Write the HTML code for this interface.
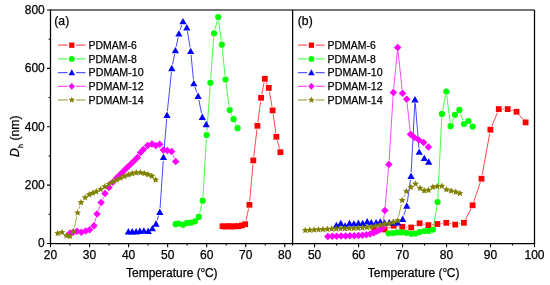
<!DOCTYPE html><html><head><meta charset="utf-8"><style>html,body{margin:0;padding:0;background:#fff;}svg{display:block;}</style></head><body><svg width="550" height="285" viewBox="0 0 550 285"><rect width="550" height="285" fill="#fff"/><defs><clipPath id="ca"><rect x="50.5" y="10" width="242.1" height="233.5"/></clipPath><clipPath id="cb"><rect x="292.6" y="10" width="241.9" height="233.5"/></clipPath></defs><g clip-path="url(#ca)"><path d="M246 220.49L248.6 208.51M249.73 201.01L252.97 164.19M253.75 156.63L256.95 129.57M257.9 122.03L260.6 101.57M261.83 94.07L264.07 82.53M266.33 82.28L267.27 84.42M269.43 91.65L271.97 106.65M273.14 114.16L275.86 133.04M277.36 140.48L279.44 148.52" fill="none" stroke="#ff0000" stroke-width="0.9" stroke-opacity="0.8"/><g fill="#ff0000"><rect x="219.6" y="223.3" width="5.8" height="5.8"/><rect x="222.8" y="223.7" width="5.8" height="5.8"/><rect x="226" y="223.2" width="5.8" height="5.8"/><rect x="229.2" y="223.7" width="5.8" height="5.8"/><rect x="232.4" y="223.3" width="5.8" height="5.8"/><rect x="235.6" y="223.3" width="5.8" height="5.8"/><rect x="239" y="222.5" width="5.8" height="5.8"/><rect x="242.3" y="221.3" width="5.8" height="5.8"/><rect x="246.5" y="201.9" width="5.8" height="5.8"/><rect x="250.4" y="157.5" width="5.8" height="5.8"/><rect x="254.5" y="122.9" width="5.8" height="5.8"/><rect x="258.2" y="94.9" width="5.8" height="5.8"/><rect x="261.9" y="75.9" width="5.8" height="5.8"/><rect x="265.9" y="85" width="5.8" height="5.8"/><rect x="269.7" y="107.5" width="5.8" height="5.8"/><rect x="273.5" y="133.9" width="5.8" height="5.8"/><rect x="277.5" y="149.3" width="5.8" height="5.8"/></g><path d="M199.69 213.21L201.81 204.39M202.93 196.91L206.37 138.79M206.88 131.21L210.12 86.59M210.68 79.01L213.72 37.09M214.95 29.62L217.25 20.68M218.69 20.77L221.31 40.93M222.2 48.48L225.1 75.72M226.02 83.26L229.18 106.24M231.18 113.5L232.12 115.7M235.14 122.67L236.06 124.73" fill="none" stroke="#00ff00" stroke-width="0.9" stroke-opacity="0.8"/><g fill="#00ff00"><circle cx="175.6" cy="224.2" r="3.1"/><circle cx="178.7" cy="223.5" r="3.1"/><circle cx="183" cy="224.8" r="3.1"/><circle cx="187.1" cy="222.9" r="3.1"/><circle cx="191" cy="222.7" r="3.1"/><circle cx="195" cy="221.3" r="3.1"/><circle cx="198.8" cy="216.9" r="3.1"/><circle cx="202.7" cy="200.7" r="3.1"/><circle cx="206.6" cy="135" r="3.1"/><circle cx="210.4" cy="82.8" r="3.1"/><circle cx="214" cy="33.3" r="3.1"/><circle cx="218.2" cy="17" r="3.1"/><circle cx="221.8" cy="44.7" r="3.1"/><circle cx="225.5" cy="79.5" r="3.1"/><circle cx="229.7" cy="110" r="3.1"/><circle cx="233.6" cy="119.2" r="3.1"/><circle cx="237.6" cy="128.2" r="3.1"/></g><path d="M157.16 220.18L158.64 215.62M160.06 208.21L163.24 160.99M163.81 153.41L166.69 118.79M167.39 111.22L171.41 72.08M172.55 64.57L174.65 54.13M176.18 46.68L178.12 37.42M180.1 30.1L181.8 25M187.42 31.25L190.08 47.45M191.06 54.98L193.44 79.62M195.03 87L196.87 92.4M198.84 99.73L201.56 113.37M204.11 120.44L204.39 120.96" fill="none" stroke="#0000ff" stroke-width="0.9" stroke-opacity="0.8"/><g fill="#0000ff"><path d="M128.4 228.08L132 234.48L124.8 234.48Z"/><path d="M132.2 228.08L135.8 234.48L128.6 234.48Z"/><path d="M136.1 228.08L139.7 234.48L132.5 234.48Z"/><path d="M139.9 227.58L143.5 233.98L136.3 233.98Z"/><path d="M143.8 227.18L147.4 233.58L140.2 233.58Z"/><path d="M148.2 227.48L151.8 233.88L144.6 233.88Z"/><path d="M152.4 224.88L156 231.28L148.8 231.28Z"/><path d="M156 220.28L159.6 226.68L152.4 226.68Z"/><path d="M159.8 208.48L163.4 214.88L156.2 214.88Z"/><path d="M163.5 153.68L167.1 160.08L159.9 160.08Z"/><path d="M167 111.48L170.6 117.88L163.4 117.88Z"/><path d="M171.8 64.78L175.4 71.18L168.2 71.18Z"/><path d="M175.4 46.88L179 53.28L171.8 53.28Z"/><path d="M178.9 30.18L182.5 36.58L175.3 36.58Z"/><path d="M183 17.88L186.6 24.28L179.4 24.28Z"/><path d="M186.8 23.98L190.4 30.38L183.2 30.38Z"/><path d="M190.7 47.68L194.3 54.08L187.1 54.08Z"/><path d="M193.8 79.88L197.4 86.28L190.2 86.28Z"/><path d="M198.1 92.48L201.7 98.88L194.5 98.88Z"/><path d="M202.3 113.58L205.9 119.98L198.7 119.98Z"/><path d="M206.2 120.78L209.8 127.18L202.6 127.18Z"/></g><path d="M94.94 222.02L96.06 217.68M98.27 210.42L99.83 205.98M102.64 198.93L103.46 197.07M173.04 155.02L174.26 157.98" fill="none" stroke="#ff00ff" stroke-width="0.9" stroke-opacity="0.8"/><g fill="#ff00ff"><path d="M70.1 229.25L73.85 233L70.1 236.75L66.35 233Z"/><path d="M73.2 228.55L76.95 232.3L73.2 236.05L69.45 232.3Z"/><path d="M77 227.55L80.75 231.3L77 235.05L73.25 231.3Z"/><path d="M81.3 228.55L85.05 232.3L81.3 236.05L77.55 232.3Z"/><path d="M85.7 227.25L89.45 231L85.7 234.75L81.95 231Z"/><path d="M89.6 226.05L93.35 229.8L89.6 233.55L85.85 229.8Z"/><path d="M94 221.95L97.75 225.7L94 229.45L90.25 225.7Z"/><path d="M97 210.25L100.75 214L97 217.75L93.25 214Z"/><path d="M101.1 198.65L104.85 202.4L101.1 206.15L97.35 202.4Z"/><path d="M105 189.85L108.75 193.6L105 197.35L101.25 193.6Z"/><path d="M109 183.75L112.75 187.5L109 191.25L105.25 187.5Z"/><path d="M112.6 178.45L116.35 182.2L112.6 185.95L108.85 182.2Z"/><path d="M116.6 174.25L120.35 178L116.6 181.75L112.85 178Z"/><path d="M120.1 170.75L123.85 174.5L120.1 178.25L116.35 174.5Z"/><path d="M123.6 167.25L127.35 171L123.6 174.75L119.85 171Z"/><path d="M127.1 163.85L130.85 167.6L127.1 171.35L123.35 167.6Z"/><path d="M130.6 160.45L134.35 164.2L130.6 167.95L126.85 164.2Z"/><path d="M134.2 157.05L137.95 160.8L134.2 164.55L130.45 160.8Z"/><path d="M137.4 153.65L141.15 157.4L137.4 161.15L133.65 157.4Z"/><path d="M140.6 148.85L144.35 152.6L140.6 156.35L136.85 152.6Z"/><path d="M143.3 145.65L147.05 149.4L143.3 153.15L139.55 149.4Z"/><path d="M147.7 141.65L151.45 145.4L147.7 149.15L143.95 145.4Z"/><path d="M152 140.25L155.75 144L152 147.75L148.25 144Z"/><path d="M155.7 141.85L159.45 145.6L155.7 149.35L151.95 145.6Z"/><path d="M159.6 140.45L163.35 144.2L159.6 147.95L155.85 144.2Z"/><path d="M163.3 146.25L167.05 150L163.3 153.75L159.55 150Z"/><path d="M167.3 146.75L171.05 150.5L167.3 154.25L163.55 150.5Z"/><path d="M171.6 147.75L175.35 151.5L171.6 155.25L167.85 151.5Z"/><path d="M175.7 157.75L179.45 161.5L175.7 165.25L171.95 161.5Z"/></g><path d="M74.4 227.59L76.8 216.51M78.79 209.19L79.81 206.11" fill="none" stroke="#808000" stroke-width="0.9" stroke-opacity="0.8"/><g fill="#808000"><path d="M57.7 229.7L58.7 231.92L61.12 232.19L59.32 233.83L59.82 236.21L57.7 235L55.58 236.21L56.08 233.83L54.28 232.19L56.7 231.92Z"/><path d="M62 228.7L63 230.92L65.42 231.19L63.62 232.83L64.12 235.21L62 234L59.88 235.21L60.38 232.83L58.58 231.19L61 230.92Z"/><path d="M66.4 232L67.4 234.22L69.82 234.49L68.02 236.13L68.52 238.51L66.4 237.3L64.28 238.51L64.78 236.13L62.98 234.49L65.4 234.22Z"/><path d="M69.9 232.6L70.9 234.82L73.32 235.09L71.52 236.73L72.02 239.11L69.9 237.9L67.78 239.11L68.28 236.73L66.48 235.09L68.9 234.82Z"/><path d="M73.6 227.7L74.6 229.92L77.02 230.19L75.22 231.83L75.72 234.21L73.6 233L71.48 234.21L71.98 231.83L70.18 230.19L72.6 229.92Z"/><path d="M77.6 209.2L78.6 211.42L81.02 211.69L79.22 213.33L79.72 215.71L77.6 214.5L75.48 215.71L75.98 213.33L74.18 211.69L76.6 211.42Z"/><path d="M81 198.9L82 201.12L84.42 201.39L82.62 203.03L83.12 205.41L81 204.2L78.88 205.41L79.38 203.03L77.58 201.39L80 201.12Z"/><path d="M85.2 194L86.2 196.22L88.62 196.49L86.82 198.13L87.32 200.51L85.2 199.3L83.08 200.51L83.58 198.13L81.78 196.49L84.2 196.22Z"/><path d="M89.2 191L90.2 193.22L92.62 193.49L90.82 195.13L91.32 197.51L89.2 196.3L87.08 197.51L87.58 195.13L85.78 193.49L88.2 193.22Z"/><path d="M92.7 189.5L93.7 191.72L96.12 191.99L94.32 193.63L94.82 196.01L92.7 194.8L90.58 196.01L91.08 193.63L89.28 191.99L91.7 191.72Z"/><path d="M96.3 188.1L97.3 190.32L99.72 190.59L97.92 192.23L98.42 194.61L96.3 193.4L94.18 194.61L94.68 192.23L92.88 190.59L95.3 190.32Z"/><path d="M100.7 185.8L101.7 188.02L104.12 188.29L102.32 189.93L102.82 192.31L100.7 191.1L98.58 192.31L99.08 189.93L97.28 188.29L99.7 188.02Z"/><path d="M104.8 183.1L105.8 185.32L108.22 185.59L106.42 187.23L106.92 189.61L104.8 188.4L102.68 189.61L103.18 187.23L101.38 185.59L103.8 185.32Z"/><path d="M109 180.5L110 182.72L112.42 182.99L110.62 184.63L111.12 187.01L109 185.8L106.88 187.01L107.38 184.63L105.58 182.99L108 182.72Z"/><path d="M113 178.3L114 180.52L116.42 180.79L114.62 182.43L115.12 184.81L113 183.6L110.88 184.81L111.38 182.43L109.58 180.79L112 180.52Z"/><path d="M116.9 176.3L117.9 178.52L120.32 178.79L118.52 180.43L119.02 182.81L116.9 181.6L114.78 182.81L115.28 180.43L113.48 178.79L115.9 178.52Z"/><path d="M120.6 174.5L121.6 176.72L124.02 176.99L122.22 178.63L122.72 181.01L120.6 179.8L118.48 181.01L118.98 178.63L117.18 176.99L119.6 176.72Z"/><path d="M124.5 172.7L125.5 174.92L127.92 175.19L126.12 176.83L126.62 179.21L124.5 178L122.38 179.21L122.88 176.83L121.08 175.19L123.5 174.92Z"/><path d="M128.3 171.3L129.3 173.52L131.72 173.79L129.92 175.43L130.42 177.81L128.3 176.6L126.18 177.81L126.68 175.43L124.88 173.79L127.3 173.52Z"/><path d="M132.1 169.9L133.1 172.12L135.52 172.39L133.72 174.03L134.22 176.41L132.1 175.2L129.98 176.41L130.48 174.03L128.68 172.39L131.1 172.12Z"/><path d="M136.2 169.1L137.2 171.32L139.62 171.59L137.82 173.23L138.32 175.61L136.2 174.4L134.08 175.61L134.58 173.23L132.78 171.59L135.2 171.32Z"/><path d="M140.4 169L141.4 171.22L143.82 171.49L142.02 173.13L142.52 175.51L140.4 174.3L138.28 175.51L138.78 173.13L136.98 171.49L139.4 171.22Z"/><path d="M144.2 169.8L145.2 172.02L147.62 172.29L145.82 173.93L146.32 176.31L144.2 175.1L142.08 176.31L142.58 173.93L140.78 172.29L143.2 172.02Z"/><path d="M148 170.9L149 173.12L151.42 173.39L149.62 175.03L150.12 177.41L148 176.2L145.88 177.41L146.38 175.03L144.58 173.39L147 173.12Z"/><path d="M151.9 172.4L152.9 174.62L155.32 174.89L153.52 176.53L154.02 178.91L151.9 177.7L149.78 178.91L150.28 176.53L148.48 174.89L150.9 174.62Z"/><path d="M155.6 176.2L156.6 178.42L159.02 178.69L157.22 180.33L157.72 182.71L155.6 181.5L153.48 182.71L153.98 180.33L152.18 178.69L154.6 178.42Z"/></g></g><path d="M50.5 243.5V247.2M89.55 243.5V247.2M128.6 243.5V247.2M167.65 243.5V247.2M206.69 243.5V247.2M245.74 243.5V247.2M284.79 243.5V247.2M70.02 243.5V245.6M109.07 243.5V245.6M148.12 243.5V245.6M187.17 243.5V245.6M226.22 243.5V245.6M265.27 243.5V245.6" stroke="#000" stroke-width="1.1" fill="none"/><text x="50.5" y="258.7" text-anchor="middle" font-size="12" font-family="Liberation Sans, Arial, sans-serif" stroke="#000" stroke-width="0.25">20</text><text x="89.55" y="258.7" text-anchor="middle" font-size="12" font-family="Liberation Sans, Arial, sans-serif" stroke="#000" stroke-width="0.25">30</text><text x="128.6" y="258.7" text-anchor="middle" font-size="12" font-family="Liberation Sans, Arial, sans-serif" stroke="#000" stroke-width="0.25">40</text><text x="167.65" y="258.7" text-anchor="middle" font-size="12" font-family="Liberation Sans, Arial, sans-serif" stroke="#000" stroke-width="0.25">50</text><text x="206.69" y="258.7" text-anchor="middle" font-size="12" font-family="Liberation Sans, Arial, sans-serif" stroke="#000" stroke-width="0.25">60</text><text x="245.74" y="258.7" text-anchor="middle" font-size="12" font-family="Liberation Sans, Arial, sans-serif" stroke="#000" stroke-width="0.25">70</text><text x="284.79" y="258.7" text-anchor="middle" font-size="12" font-family="Liberation Sans, Arial, sans-serif" stroke="#000" stroke-width="0.25">80</text><text x="171.8" y="276.6" text-anchor="middle" font-size="12" font-family="Liberation Sans, Arial, sans-serif" stroke="#000" stroke-width="0.25">Temperature (<tspan font-size="6.8" dy="-5" dx="0.3">o</tspan><tspan dy="5" dx="0.2">C)</tspan></text><text x="54.3" y="24.9" font-size="12.2" font-family="Liberation Sans, Arial, sans-serif" stroke="#000" stroke-width="0.25">(a)</text><path d="M58 45.2H67.6M76 45.2H85.5" stroke="#ff5a6a" stroke-width="1.3"/><g fill="#ff0000"><rect x="69.15" y="42.55" width="5.3" height="5.3"/></g><text x="88.6" y="49.3" font-size="11.4" textLength="48.2" lengthAdjust="spacingAndGlyphs" font-family="Liberation Sans, Arial, sans-serif" stroke="#000" stroke-width="0.25">PDMAM-6</text><path d="M58 58.9H67.6M76 58.9H85.5" stroke="#5aff5a" stroke-width="1.3"/><g fill="#00ff00"><circle cx="71.8" cy="58.9" r="2.95"/></g><text x="88.6" y="62.88" font-size="11.4" textLength="48.2" lengthAdjust="spacingAndGlyphs" font-family="Liberation Sans, Arial, sans-serif" stroke="#000" stroke-width="0.25">PDMAM-8</text><path d="M58 72.6H67.6M76 72.6H85.5" stroke="#5a5aff" stroke-width="1.3"/><g fill="#0000ff"><path d="M71.8 69.35L75.1 75.25L68.5 75.25Z"/></g><text x="88.6" y="76.46" font-size="11.4" textLength="55.0" lengthAdjust="spacingAndGlyphs" font-family="Liberation Sans, Arial, sans-serif" stroke="#000" stroke-width="0.25">PDMAM-10</text><path d="M58 86.3H67.6M76 86.3H85.5" stroke="#ff5aff" stroke-width="1.3"/><g fill="#ff00ff"><path d="M71.8 82.9L75.1 86.3L71.8 89.7L68.5 86.3Z"/></g><text x="88.6" y="90.04" font-size="11.4" textLength="55.0" lengthAdjust="spacingAndGlyphs" font-family="Liberation Sans, Arial, sans-serif" stroke="#000" stroke-width="0.25">PDMAM-12</text><path d="M58 100H67.6M76 100H85.5" stroke="#b8b870" stroke-width="1.3"/><g fill="#808000"><path d="M71.8 96.6L72.74 98.71L75.03 98.95L73.32 100.49L73.8 102.75L71.8 101.6L69.8 102.75L70.28 100.49L68.57 98.95L70.86 98.71Z"/></g><text x="88.6" y="103.62" font-size="11.4" textLength="55.0" lengthAdjust="spacingAndGlyphs" font-family="Liberation Sans, Arial, sans-serif" stroke="#000" stroke-width="0.25">PDMAM-14</text><g clip-path="url(#cb)"><path d="M378.09 228.99L380.81 229.21M388.11 228.06L390.09 227.24M397.38 226.23L398.52 226.37M406.09 227.1L407.41 227.2M414.6 225.8L416.2 225M423.32 224.06L424.68 224.34M432.17 224.64L433.63 224.46M441.17 223.49L442.53 223.31M450.02 223.55L451.48 223.85M458.92 223.83L460.18 223.57M465.59 219.4L470.91 208.7M473.81 201.7L480.29 182.3M482.18 174.96L489.72 133.44M491.83 126.18L497.37 112.62M502.6 109.1L503.9 109.1M511.33 110.21L512.87 110.69M518.98 114.68L523.12 119.52" fill="none" stroke="#ff0000" stroke-width="0.9" stroke-opacity="0.8"/><g fill="#ff0000"><rect x="371.4" y="225.8" width="5.8" height="5.8"/><rect x="381.7" y="226.6" width="5.8" height="5.8"/><rect x="390.7" y="222.9" width="5.8" height="5.8"/><rect x="399.4" y="223.9" width="5.8" height="5.8"/><rect x="408.3" y="224.6" width="5.8" height="5.8"/><rect x="416.7" y="220.4" width="5.8" height="5.8"/><rect x="425.5" y="222.2" width="5.8" height="5.8"/><rect x="434.5" y="221.1" width="5.8" height="5.8"/><rect x="443.4" y="219.9" width="5.8" height="5.8"/><rect x="452.3" y="221.7" width="5.8" height="5.8"/><rect x="461" y="219.9" width="5.8" height="5.8"/><rect x="469.7" y="202.4" width="5.8" height="5.8"/><rect x="478.6" y="175.8" width="5.8" height="5.8"/><rect x="487.5" y="126.8" width="5.8" height="5.8"/><rect x="495.9" y="106.2" width="5.8" height="5.8"/><rect x="504.8" y="106.2" width="5.8" height="5.8"/><rect x="513.6" y="108.9" width="5.8" height="5.8"/><rect x="522.7" y="119.5" width="5.8" height="5.8"/></g><path d="M433.54 225.85L436.96 205.75M437.79 198.2L441.71 117.7M442.63 110.17L445.57 95.23M446.77 95.27L450.13 122.43M451.97 122.65L453.63 118.35M460.58 113.51L462.82 120.39" fill="none" stroke="#00ff00" stroke-width="0.9" stroke-opacity="0.8"/><g fill="#00ff00"><circle cx="388.6" cy="233.3" r="3.1"/><circle cx="392.9" cy="233" r="3.1"/><circle cx="397.1" cy="232.4" r="3.1"/><circle cx="401.3" cy="232.4" r="3.1"/><circle cx="406.2" cy="232.8" r="3.1"/><circle cx="411.2" cy="233.8" r="3.1"/><circle cx="415.4" cy="233.5" r="3.1"/><circle cx="419.6" cy="232.1" r="3.1"/><circle cx="424.5" cy="231" r="3.1"/><circle cx="428.7" cy="231" r="3.1"/><circle cx="432.9" cy="229.6" r="3.1"/><circle cx="437.6" cy="202" r="3.1"/><circle cx="441.9" cy="113.9" r="3.1"/><circle cx="446.3" cy="91.5" r="3.1"/><circle cx="450.6" cy="126.2" r="3.1"/><circle cx="455" cy="114.8" r="3.1"/><circle cx="459.4" cy="109.9" r="3.1"/><circle cx="464" cy="124" r="3.1"/><circle cx="468.4" cy="121" r="3.1"/><circle cx="472.7" cy="126.6" r="3.1"/></g><path d="M403.83 215.37L405.67 209.43M407.33 202.04L410.47 179.76M411.2 172.21L414.8 103.29M415.3 103.29L418.9 148.11M421.59 154.85L421.91 155.25" fill="none" stroke="#0000ff" stroke-width="0.9" stroke-opacity="0.8"/><g fill="#0000ff"><path d="M336.4 221.68L340 228.08L332.8 228.08Z"/><path d="M340.8 219.78L344.4 226.18L337.2 226.18Z"/><path d="M345.1 222.18L348.7 228.58L341.5 228.58Z"/><path d="M349.5 219.78L353.1 226.18L345.9 226.18Z"/><path d="M353.9 220.18L357.5 226.58L350.3 226.58Z"/><path d="M358.4 219.48L362 225.88L354.8 225.88Z"/><path d="M362.7 219.78L366.3 226.18L359.1 226.18Z"/><path d="M367.2 217.98L370.8 224.38L363.6 224.38Z"/><path d="M371.3 218.98L374.9 225.38L367.7 225.38Z"/><path d="M376.1 218.98L379.7 225.38L372.5 225.38Z"/><path d="M380.3 218.18L383.9 224.58L376.7 224.58Z"/><path d="M384.5 219.28L388.1 225.68L380.9 225.68Z"/><path d="M389.2 218.98L392.8 225.38L385.6 225.38Z"/><path d="M393.4 218.98L397 225.38L389.8 225.38Z"/><path d="M397.6 218.98L401.2 225.38L394 225.38Z"/><path d="M402.7 215.48L406.3 221.88L399.1 221.88Z"/><path d="M406.8 202.28L410.4 208.68L403.2 208.68Z"/><path d="M411 172.48L414.6 178.88L407.4 178.88Z"/><path d="M415 95.98L418.6 102.38L411.4 102.38Z"/><path d="M419.2 148.38L422.8 154.78L415.6 154.78Z"/><path d="M424.3 154.68L427.9 161.08L420.7 161.08Z"/><path d="M428.7 158.28L432.3 164.68L425.1 164.68Z"/></g><path d="M382.92 224.24L384.28 214.26M385.14 206.72L388.56 168.28M389.13 160.71L393.07 96.29M393.67 88.72L397.33 51.28M398.1 51.28L402.1 89.42M407.11 103.08L410.09 130.42" fill="none" stroke="#ff00ff" stroke-width="0.9" stroke-opacity="0.8"/><g fill="#ff00ff"><path d="M327.9 232.65L331.65 236.4L327.9 240.15L324.15 236.4Z"/><path d="M332.3 232.55L336.05 236.3L332.3 240.05L328.55 236.3Z"/><path d="M336.7 232.45L340.45 236.2L336.7 239.95L332.95 236.2Z"/><path d="M341.1 232.35L344.85 236.1L341.1 239.85L337.35 236.1Z"/><path d="M345.5 232.25L349.25 236L345.5 239.75L341.75 236Z"/><path d="M349.9 232.05L353.65 235.8L349.9 239.55L346.15 235.8Z"/><path d="M354.3 231.95L358.05 235.7L354.3 239.45L350.55 235.7Z"/><path d="M358.5 231.75L362.25 235.5L358.5 239.25L354.75 235.5Z"/><path d="M362.5 231.55L366.25 235.3L362.5 239.05L358.75 235.3Z"/><path d="M366.4 231.05L370.15 234.8L366.4 238.55L362.65 234.8Z"/><path d="M370.2 230.25L373.95 234L370.2 237.75L366.45 234Z"/><path d="M373.8 229.05L377.55 232.8L373.8 236.55L370.05 232.8Z"/><path d="M377 227.55L380.75 231.3L377 235.05L373.25 231.3Z"/><path d="M380 225.85L383.75 229.6L380 233.35L376.25 229.6Z"/><path d="M382.4 224.25L386.15 228L382.4 231.75L378.65 228Z"/><path d="M384.8 206.75L388.55 210.5L384.8 214.25L381.05 210.5Z"/><path d="M388.9 160.75L392.65 164.5L388.9 168.25L385.15 164.5Z"/><path d="M393.3 88.75L397.05 92.5L393.3 96.25L389.55 92.5Z"/><path d="M397.7 43.75L401.45 47.5L397.7 51.25L393.95 47.5Z"/><path d="M402.5 89.45L406.25 93.2L402.5 96.95L398.75 93.2Z"/><path d="M406.7 95.55L410.45 99.3L406.7 103.05L402.95 99.3Z"/><path d="M410.5 130.45L414.25 134.2L410.5 137.95L406.75 134.2Z"/><path d="M414.5 133.85L418.25 137.6L414.5 141.35L410.75 137.6Z"/><path d="M418.9 136.25L422.65 140L418.9 143.75L415.15 140Z"/><path d="M423.6 138.65L427.35 142.4L423.6 146.15L419.85 142.4Z"/><path d="M428.4 143.35L432.15 147.1L428.4 150.85L424.65 147.1Z"/></g><path d="M398.53 216.79L401.37 204.11M403.79 196.95L404.81 194.75" fill="none" stroke="#808000" stroke-width="0.9" stroke-opacity="0.8"/><g fill="#808000"><path d="M305.3 226.7L306.3 228.92L308.72 229.19L306.92 230.83L307.42 233.21L305.3 232L303.18 233.21L303.68 230.83L301.88 229.19L304.3 228.92Z"/><path d="M309.7 226.47L310.7 228.69L313.12 228.96L311.32 230.59L311.82 232.98L309.7 231.77L307.58 232.98L308.08 230.59L306.28 228.96L308.7 228.69Z"/><path d="M314.1 226.24L315.1 228.46L317.52 228.72L315.72 230.36L316.22 232.75L314.1 231.54L311.98 232.75L312.48 230.36L310.68 228.72L313.1 228.46Z"/><path d="M318.5 226.01L319.5 228.23L321.92 228.49L320.12 230.13L320.62 232.52L318.5 231.31L316.38 232.52L316.88 230.13L315.08 228.49L317.5 228.23Z"/><path d="M322.9 225.77L323.9 228L326.32 228.26L324.52 229.9L325.02 232.29L322.9 231.07L320.78 232.29L321.28 229.9L319.48 228.26L321.9 228Z"/><path d="M327.3 225.54L328.3 227.77L330.72 228.03L328.92 229.67L329.42 232.05L327.3 230.84L325.18 232.05L325.68 229.67L323.88 228.03L326.3 227.77Z"/><path d="M331.7 225.34L332.7 227.57L335.12 227.83L333.32 229.47L333.82 231.86L331.7 230.64L329.58 231.86L330.08 229.47L328.28 227.83L330.7 227.57Z"/><path d="M336.1 225.2L337.1 227.42L339.52 227.68L337.72 229.32L338.22 231.71L336.1 230.5L333.98 231.71L334.48 229.32L332.68 227.68L335.1 227.42Z"/><path d="M340.5 225.05L341.5 227.27L343.92 227.54L342.12 229.18L342.62 231.56L340.5 230.35L338.38 231.56L338.88 229.18L337.08 227.54L339.5 227.27Z"/><path d="M344.9 224.9L345.9 227.13L348.32 227.39L346.52 229.03L347.02 231.42L344.9 230.2L342.78 231.42L343.28 229.03L341.48 227.39L343.9 227.13Z"/><path d="M349.3 224.76L350.3 226.98L352.72 227.24L350.92 228.88L351.42 231.27L349.3 230.06L347.18 231.27L347.68 228.88L345.88 227.24L348.3 226.98Z"/><path d="M353.7 224.61L354.7 226.83L357.12 227.1L355.32 228.74L355.82 231.12L353.7 229.91L351.58 231.12L352.08 228.74L350.28 227.1L352.7 226.83Z"/><path d="M358.1 224.46L359.1 226.69L361.52 226.95L359.72 228.59L360.22 230.98L358.1 229.76L355.98 230.98L356.48 228.59L354.68 226.95L357.1 226.69Z"/><path d="M362.5 224.15L363.5 226.37L365.92 226.64L364.12 228.28L364.62 230.66L362.5 229.45L360.38 230.66L360.88 228.28L359.08 226.64L361.5 226.37Z"/><path d="M366.9 223.71L367.9 225.93L370.32 226.2L368.52 227.84L369.02 230.22L366.9 229.01L364.78 230.22L365.28 227.84L363.48 226.2L365.9 225.93Z"/><path d="M371.3 223.14L372.3 225.36L374.72 225.63L372.92 227.27L373.42 229.65L371.3 228.44L369.18 229.65L369.68 227.27L367.88 225.63L370.3 225.36Z"/><path d="M375.7 222.26L376.7 224.48L379.12 224.75L377.32 226.39L377.82 228.77L375.7 227.56L373.58 228.77L374.08 226.39L372.28 224.75L374.7 224.48Z"/><path d="M380.1 221.38L381.1 223.61L383.52 223.87L381.72 225.51L382.22 227.9L380.1 226.68L377.98 227.9L378.48 225.51L376.68 223.87L379.1 223.61Z"/><path d="M384.5 220.72L385.5 222.95L387.92 223.21L386.12 224.85L386.62 227.24L384.5 226.02L382.38 227.24L382.88 224.85L381.08 223.21L383.5 222.95Z"/><path d="M388.9 220.06L389.9 222.29L392.32 222.55L390.52 224.19L391.02 226.58L388.9 225.36L386.78 226.58L387.28 224.19L385.48 222.55L387.9 222.29Z"/><path d="M393.3 218.61L394.3 220.84L396.72 221.1L394.92 222.74L395.42 225.13L393.3 223.91L391.18 225.13L391.68 222.74L389.88 221.1L392.3 220.84Z"/><path d="M397.7 216.9L398.7 219.12L401.12 219.39L399.32 221.03L399.82 223.41L397.7 222.2L395.58 223.41L396.08 221.03L394.28 219.39L396.7 219.12Z"/><path d="M402.2 196.8L403.2 199.02L405.62 199.29L403.82 200.93L404.32 203.31L402.2 202.1L400.08 203.31L400.58 200.93L398.78 199.29L401.2 199.02Z"/><path d="M406.4 187.7L407.4 189.92L409.82 190.19L408.02 191.83L408.52 194.21L406.4 193L404.28 194.21L404.78 191.83L402.98 190.19L405.4 189.92Z"/><path d="M410.9 183.6L411.9 185.82L414.32 186.09L412.52 187.73L413.02 190.11L410.9 188.9L408.78 190.11L409.28 187.73L407.48 186.09L409.9 185.82Z"/><path d="M415.5 180.3L416.5 182.52L418.92 182.79L417.12 184.43L417.62 186.81L415.5 185.6L413.38 186.81L413.88 184.43L412.08 182.79L414.5 182.52Z"/><path d="M420 184.6L421 186.82L423.42 187.09L421.62 188.73L422.12 191.11L420 189.9L417.88 191.11L418.38 188.73L416.58 187.09L419 186.82Z"/><path d="M424.2 187.1L425.2 189.32L427.62 189.59L425.82 191.23L426.32 193.61L424.2 192.4L422.08 193.61L422.58 191.23L420.78 189.59L423.2 189.32Z"/><path d="M428.5 186.6L429.5 188.82L431.92 189.09L430.12 190.73L430.62 193.11L428.5 191.9L426.38 193.11L426.88 190.73L425.08 189.09L427.5 188.82Z"/><path d="M432.9 183.5L433.9 185.72L436.32 185.99L434.52 187.63L435.02 190.01L432.9 188.8L430.78 190.01L431.28 187.63L429.48 185.99L431.9 185.72Z"/><path d="M437.2 182.8L438.2 185.02L440.62 185.29L438.82 186.93L439.32 189.31L437.2 188.1L435.08 189.31L435.58 186.93L433.78 185.29L436.2 185.02Z"/><path d="M441.8 182.5L442.8 184.72L445.22 184.99L443.42 186.63L443.92 189.01L441.8 187.8L439.68 189.01L440.18 186.63L438.38 184.99L440.8 184.72Z"/><path d="M446.4 186L447.4 188.22L449.82 188.49L448.02 190.13L448.52 192.51L446.4 191.3L444.28 192.51L444.78 190.13L442.98 188.49L445.4 188.22Z"/><path d="M451.1 187.2L452.1 189.42L454.52 189.69L452.72 191.33L453.22 193.71L451.1 192.5L448.98 193.71L449.48 191.33L447.68 189.69L450.1 189.42Z"/><path d="M455.7 188.4L456.7 190.62L459.12 190.89L457.32 192.53L457.82 194.91L455.7 193.7L453.58 194.91L454.08 192.53L452.28 190.89L454.7 190.62Z"/><path d="M459.9 189.7L460.9 191.92L463.32 192.19L461.52 193.83L462.02 196.21L459.9 195L457.78 196.21L458.28 193.83L456.48 192.19L458.9 191.92Z"/></g></g><path d="M314.59 243.5V247.2M358.57 243.5V247.2M402.55 243.5V247.2M446.54 243.5V247.2M490.52 243.5V247.2M534.5 243.5V247.2M292.6 243.5V245.6M336.58 243.5V245.6M380.56 243.5V245.6M424.55 243.5V245.6M468.53 243.5V245.6M512.51 243.5V245.6" stroke="#000" stroke-width="1.1" fill="none"/><text x="314.59" y="258.7" text-anchor="middle" font-size="12" font-family="Liberation Sans, Arial, sans-serif" stroke="#000" stroke-width="0.25">50</text><text x="358.57" y="258.7" text-anchor="middle" font-size="12" font-family="Liberation Sans, Arial, sans-serif" stroke="#000" stroke-width="0.25">60</text><text x="402.55" y="258.7" text-anchor="middle" font-size="12" font-family="Liberation Sans, Arial, sans-serif" stroke="#000" stroke-width="0.25">70</text><text x="446.54" y="258.7" text-anchor="middle" font-size="12" font-family="Liberation Sans, Arial, sans-serif" stroke="#000" stroke-width="0.25">80</text><text x="490.52" y="258.7" text-anchor="middle" font-size="12" font-family="Liberation Sans, Arial, sans-serif" stroke="#000" stroke-width="0.25">90</text><text x="534.5" y="258.7" text-anchor="middle" font-size="12" font-family="Liberation Sans, Arial, sans-serif" stroke="#000" stroke-width="0.25">100</text><text x="413.7" y="276.6" text-anchor="middle" font-size="12" font-family="Liberation Sans, Arial, sans-serif" stroke="#000" stroke-width="0.25">Temperature (<tspan font-size="6.8" dy="-5" dx="0.3">o</tspan><tspan dy="5" dx="0.2">C)</tspan></text><text x="297.8" y="24.9" font-size="12.2" font-family="Liberation Sans, Arial, sans-serif" stroke="#000" stroke-width="0.25">(b)</text><path d="M298 45.2H307.2M315.6 45.2H324.7" stroke="#ff5a6a" stroke-width="1.3"/><g fill="#ff0000"><rect x="308.75" y="42.55" width="5.3" height="5.3"/></g><text x="327.6" y="49.3" font-size="11.4" textLength="48.2" lengthAdjust="spacingAndGlyphs" font-family="Liberation Sans, Arial, sans-serif" stroke="#000" stroke-width="0.25">PDMAM-6</text><path d="M298 58.9H307.2M315.6 58.9H324.7" stroke="#5aff5a" stroke-width="1.3"/><g fill="#00ff00"><circle cx="311.4" cy="58.9" r="2.95"/></g><text x="327.6" y="62.88" font-size="11.4" textLength="48.2" lengthAdjust="spacingAndGlyphs" font-family="Liberation Sans, Arial, sans-serif" stroke="#000" stroke-width="0.25">PDMAM-8</text><path d="M298 72.6H307.2M315.6 72.6H324.7" stroke="#5a5aff" stroke-width="1.3"/><g fill="#0000ff"><path d="M311.4 69.35L314.7 75.25L308.1 75.25Z"/></g><text x="327.6" y="76.46" font-size="11.4" textLength="55.0" lengthAdjust="spacingAndGlyphs" font-family="Liberation Sans, Arial, sans-serif" stroke="#000" stroke-width="0.25">PDMAM-10</text><path d="M298 86.3H307.2M315.6 86.3H324.7" stroke="#ff5aff" stroke-width="1.3"/><g fill="#ff00ff"><path d="M311.4 82.9L314.7 86.3L311.4 89.7L308.1 86.3Z"/></g><text x="327.6" y="90.04" font-size="11.4" textLength="55.0" lengthAdjust="spacingAndGlyphs" font-family="Liberation Sans, Arial, sans-serif" stroke="#000" stroke-width="0.25">PDMAM-12</text><path d="M298 100H307.2M315.6 100H324.7" stroke="#b8b870" stroke-width="1.3"/><g fill="#808000"><path d="M311.4 96.6L312.34 98.71L314.63 98.95L312.92 100.49L313.4 102.75L311.4 101.6L309.4 102.75L309.88 100.49L308.17 98.95L310.46 98.71Z"/></g><text x="327.6" y="103.62" font-size="11.4" textLength="55.0" lengthAdjust="spacingAndGlyphs" font-family="Liberation Sans, Arial, sans-serif" stroke="#000" stroke-width="0.25">PDMAM-14</text><path d="M47 243.5H50.5M47 185.12H50.5M47 126.75H50.5M47 68.38H50.5M47 10H50.5M48.6 214.31H50.5M48.6 155.94H50.5M48.6 97.56H50.5M48.6 39.19H50.5" stroke="#000" stroke-width="1.1" fill="none"/><text x="44.8" y="247.4" text-anchor="end" font-size="12" font-family="Liberation Sans, Arial, sans-serif" stroke="#000" stroke-width="0.25">0</text><text x="44.8" y="189.03" text-anchor="end" font-size="12" font-family="Liberation Sans, Arial, sans-serif" stroke="#000" stroke-width="0.25">200</text><text x="44.8" y="130.65" text-anchor="end" font-size="12" font-family="Liberation Sans, Arial, sans-serif" stroke="#000" stroke-width="0.25">400</text><text x="44.8" y="72.28" text-anchor="end" font-size="12" font-family="Liberation Sans, Arial, sans-serif" stroke="#000" stroke-width="0.25">600</text><text x="44.8" y="13.9" text-anchor="end" font-size="12" font-family="Liberation Sans, Arial, sans-serif" stroke="#000" stroke-width="0.25">800</text><text transform="translate(19,157) rotate(-90)" font-size="12.2" font-family="Liberation Sans, Arial, sans-serif" stroke="#000" stroke-width="0.25"><tspan font-style="italic">D</tspan><tspan font-size="7.2" dy="4.4" dx="0.3">h</tspan><tspan dy="-4.4"> (nm)</tspan></text><path d="M50.5 10H534.5" stroke="#000" stroke-width="1.3" opacity="0.72" fill="none"/><path d="M50.5 9.4V243.5H534.5V10M292.6 10V243.5" stroke="#000" stroke-width="1.25" fill="none"/></svg></body></html>
